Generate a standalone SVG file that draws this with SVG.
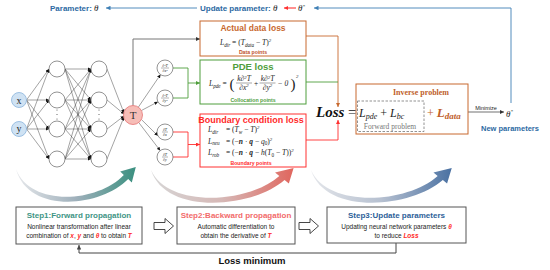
<svg xmlns="http://www.w3.org/2000/svg" width="550" height="270" viewBox="0 0 550 270">
<style>
.sans{font-family:"Liberation Sans",Arial,sans-serif}
.m{font-family:"Liberation Serif","DejaVu Serif",serif;font-style:italic;font-size:7.5px;fill:#222}
.sb{font-size:5.2px}
.sp{font-size:4.8px}
.nn circle{fill:#fff;stroke:#777;stroke-width:0.8}
.w line{stroke:#333;stroke-width:0.45;marker-end:url(#ak)}
.fr{font-family:"Liberation Serif",serif;font-style:italic;font-size:4px;fill:#222;text-anchor:middle}
.dc circle{fill:#fff;stroke:#666;stroke-width:0.7}
.dc line{stroke:#222;stroke-width:0.35}
.pt{font-family:"Liberation Sans",Arial,sans-serif;font-weight:bold;font-size:8px;fill:#2d6aa3}
.th{font-family:"Liberation Serif",serif;font-style:italic;font-weight:normal;font-size:9px;fill:#222}
.step{fill:#fff;stroke:#555;stroke-width:1}
.st{font-family:"Liberation Sans",Arial,sans-serif;font-weight:bold;font-size:8px;text-anchor:middle}
.sbd{font-family:"Liberation Sans",Arial,sans-serif;font-size:6.5px;fill:#222;text-anchor:middle}
.rb{fill:#ff2a2a;font-weight:bold;font-style:italic}
.hollow{fill:#fff;stroke:#333;stroke-width:0.9}
</style>
<defs>
<marker id="ak" viewBox="0 0 10 10" refX="10" refY="5" markerWidth="3.5" markerHeight="3.5" markerUnits="userSpaceOnUse" orient="auto"><path d="M0,0 L10,5 L0,10 z" fill="#111"/></marker>
<marker id="ag" viewBox="0 0 10 10" refX="10" refY="5" markerWidth="4" markerHeight="4" markerUnits="userSpaceOnUse" orient="auto"><path d="M0,0 L10,5 L0,10 z" fill="#333"/></marker>
<marker id="ao" viewBox="0 0 10 10" refX="10" refY="5" markerWidth="4" markerHeight="4" markerUnits="userSpaceOnUse" orient="auto"><path d="M0,0 L10,5 L0,10 z" fill="#c8692f"/></marker>
<marker id="agr" viewBox="0 0 10 10" refX="10" refY="5" markerWidth="4" markerHeight="4" markerUnits="userSpaceOnUse" orient="auto"><path d="M0,0 L10,5 L0,10 z" fill="#4f9e3c"/></marker>
<marker id="ar" viewBox="0 0 10 10" refX="10" refY="5" markerWidth="4" markerHeight="4" markerUnits="userSpaceOnUse" orient="auto"><path d="M0,0 L10,5 L0,10 z" fill="#ff3030"/></marker>
<marker id="ab" viewBox="0 0 10 10" refX="10" refY="5" markerWidth="4.5" markerHeight="4.5" markerUnits="userSpaceOnUse" orient="auto"><path d="M0,0 L10,5 L0,10 z" fill="#3f7fb5"/></marker>
<marker id="ad" viewBox="0 0 10 10" refX="10" refY="5" markerWidth="4.5" markerHeight="4.5" markerUnits="userSpaceOnUse" orient="auto"><path d="M0,0 L10,5 L0,10 z" fill="#444"/></marker>
<linearGradient id="g1" x1="0" y1="0" x2="1" y2="0"><stop offset="0" stop-color="#e6e8eb"/><stop offset="0.5" stop-color="#9fb0bb"/><stop offset="1" stop-color="#3b9080"/></linearGradient>
<linearGradient id="g2" x1="0" y1="0" x2="1" y2="0"><stop offset="0" stop-color="#d6d6d6"/><stop offset="0.5" stop-color="#d6b8b6"/><stop offset="1" stop-color="#e0665e"/></linearGradient>
<linearGradient id="g3" x1="0" y1="0" x2="1" y2="0"><stop offset="0" stop-color="#e4e6ea"/><stop offset="0.5" stop-color="#b6c0d0"/><stop offset="1" stop-color="#4a71a2"/></linearGradient>
<path id="arc" d="M16,169 C28,214 100,208 128.2,179.1 L131.8,182.6 L135.8,166.9 L120.2,171.4 L123.8,174.9 C97,203 30,207 16,169 Z"/>
</defs>

<!-- swoosh arrows -->
<g id="swoosh1"><use href="#arc" fill="url(#g1)"/></g>
<g id="swoosh2" transform="translate(132,1) scale(1.19,1)"><use href="#arc" fill="url(#g2)"/></g>
<g id="swoosh3" transform="translate(292.2,1) scale(1.175,1)"><use href="#arc" fill="url(#g3)"/></g>

<!-- top parameter texts -->
<g id="param">
<text x="50" y="11" class="pt">Parameter: <tspan class="th">θ</tspan></text>
</g>
<g id="update">
<text x="200" y="11" class="pt">Update parameter: <tspan class="th">θ</tspan></text>
<line x1="296" y1="8" x2="284" y2="8" stroke="#ff2020" stroke-width="1" marker-end="url(#ar)"/>
<text x="298" y="11" class="th">θ<tspan font-size="5" dy="-3">*</tspan></text>
</g>

<!-- connectors -->
<g id="connectors" fill="none">
<line x1="197" y1="8" x2="106" y2="8" stroke="#3f7fb5" stroke-width="0.9" marker-end="url(#ab)"/>
<polyline points="511,103 511,8 314,8" stroke="#3f7fb5" stroke-width="0.9" marker-end="url(#ab)"/>
<polyline points="133,105.5 133,39 200,39" stroke="#777" stroke-width="1" marker-end="url(#ag)"/>
<g stroke="#444" stroke-width="0.5">
<line x1="138.3" y1="107.2" x2="160.5" y2="74.6" marker-end="url(#ak)"/>
<line x1="141.4" y1="110.5" x2="157.9" y2="101.8" marker-end="url(#ak)"/>
<line x1="141.4" y1="119.5" x2="157.9" y2="135.8" marker-end="url(#ak)"/>
<line x1="138.8" y1="122.6" x2="160.2" y2="150.6" marker-end="url(#ak)"/>
</g>
<polyline points="173,68 188,68 188,98 173,98" stroke="#4f9e3c" stroke-width="0.9"/>
<line x1="188" y1="83" x2="200" y2="83" stroke="#4f9e3c" stroke-width="0.9" marker-end="url(#agr)"/>
<polyline points="173,132 188,132 188,157 173,157" stroke="#ff3030" stroke-width="0.9"/>
<line x1="188" y1="144.5" x2="200" y2="144.5" stroke="#ff3030" stroke-width="0.9" marker-end="url(#ar)"/>
<polyline points="306,36 338,36 338,107" stroke="#c8692f" stroke-width="0.9" marker-end="url(#ao)"/>
<line x1="306" y1="82" x2="338" y2="82" stroke="#4f9e3c" stroke-width="0.9"/>
<polyline points="306,140 338,140 338,120" stroke="#ff3030" stroke-width="0.9" marker-end="url(#ar)"/>
<line x1="468" y1="112" x2="504" y2="112" stroke="#333" stroke-width="0.7" marker-end="url(#ag)"/>
<polyline points="396,243 396,253 79,253 79,245" stroke="#444" stroke-width="1" marker-end="url(#ad)"/>
</g>

<!-- neural network weights -->
<g id="weights" class="w">
<line x1="26.5" y1="100" x2="49" y2="69"/><line x1="26.5" y1="100" x2="49" y2="100"/><line x1="26.5" y1="100" x2="49" y2="129"/><line x1="26.5" y1="100" x2="49" y2="159"/>
<line x1="26.5" y1="129" x2="49" y2="69"/><line x1="26.5" y1="129" x2="49" y2="100"/><line x1="26.5" y1="129" x2="49" y2="129"/><line x1="26.5" y1="129" x2="49" y2="159"/>
<line x1="65" y1="69" x2="91" y2="69"/><line x1="65" y1="69" x2="91" y2="100"/><line x1="65" y1="69" x2="91" y2="129"/><line x1="65" y1="69" x2="91" y2="159"/>
<line x1="65" y1="100" x2="91" y2="69"/><line x1="65" y1="100" x2="91" y2="100"/><line x1="65" y1="100" x2="91" y2="129"/><line x1="65" y1="100" x2="91" y2="159"/>
<line x1="65" y1="129" x2="91" y2="69"/><line x1="65" y1="129" x2="91" y2="100"/><line x1="65" y1="129" x2="91" y2="129"/><line x1="65" y1="129" x2="91" y2="159"/>
<line x1="65" y1="159" x2="91" y2="69"/><line x1="65" y1="159" x2="91" y2="100"/><line x1="65" y1="159" x2="91" y2="129"/><line x1="65" y1="159" x2="91" y2="159"/>
<line x1="107" y1="69" x2="124" y2="113"/><line x1="107" y1="100" x2="124" y2="114"/><line x1="107" y1="129" x2="124" y2="116"/><line x1="107" y1="159" x2="124" y2="117"/>
</g>

<!-- network nodes -->
<g id="input-x"><circle cx="19" cy="100" r="7.5" fill="#cfe2f3" stroke="#8ab4dc" stroke-width="0.8"/><text x="19" y="103.5" text-anchor="middle" font-family="Liberation Serif,serif" font-size="10" fill="#222">x</text></g>
<g id="input-y"><circle cx="19" cy="129" r="7.5" fill="#cfe2f3" stroke="#8ab4dc" stroke-width="0.8"/><text x="19" y="132" text-anchor="middle" font-family="Liberation Serif,serif" font-size="10" fill="#222">y</text></g>
<g id="hidden1" class="nn">
<circle cx="57" cy="69" r="8"/><circle cx="57" cy="100" r="8"/><circle cx="57" cy="129" r="8"/><circle cx="57" cy="159" r="8"/>
<circle cx="57" cy="110" r="0.5" style="fill:#333;stroke:none"/><circle cx="57" cy="114.5" r="0.5" style="fill:#333;stroke:none"/><circle cx="57" cy="119" r="0.5" style="fill:#333;stroke:none"/>
</g>
<g id="hidden2" class="nn">
<circle cx="99" cy="69" r="8"/><circle cx="99" cy="100" r="8"/><circle cx="99" cy="129" r="8"/><circle cx="99" cy="159" r="8"/>
<circle cx="99" cy="110" r="0.5" style="fill:#333;stroke:none"/><circle cx="99" cy="114.5" r="0.5" style="fill:#333;stroke:none"/><circle cx="99" cy="119" r="0.5" style="fill:#333;stroke:none"/>
</g>
<g id="output-T"><circle cx="133" cy="115" r="9.5" fill="#f6bdb7" stroke="#e57373" stroke-width="0.8"/><text x="133" y="119" text-anchor="middle" font-family="Liberation Serif,serif" font-size="11" fill="#333">T</text></g>

<!-- derivative nodes -->
<g id="d2Tdx2" class="dc"><circle cx="165" cy="68" r="8"/><text x="165" y="66.6" class="fr">∂²T</text><line x1="161" y1="68" x2="169" y2="68"/><text x="165" y="72.3" class="fr">∂x²</text></g>
<g id="d2Tdy2" class="dc"><circle cx="165" cy="98" r="8"/><text x="165" y="96.6" class="fr">∂²T</text><line x1="161" y1="98" x2="169" y2="98"/><text x="165" y="102.3" class="fr">∂y²</text></g>
<g id="dTdx" class="dc"><circle cx="165" cy="132" r="8"/><text x="165" y="130.6" class="fr">∂T</text><line x1="162" y1="132" x2="168" y2="132"/><text x="165" y="136.3" class="fr">∂x</text></g>
<g id="dTdy" class="dc"><circle cx="165" cy="157" r="8"/><text x="165" y="155.6" class="fr">∂T</text><line x1="162" y1="157" x2="168" y2="157"/><text x="165" y="161.3" class="fr">∂y</text></g>

<!-- Actual data loss -->
<g id="data-loss">
<rect x="200" y="21" width="106" height="35" fill="#fff" stroke="#c8692f" stroke-width="1"/>
<text x="253" y="31" text-anchor="middle" class="sans" font-weight="bold" font-size="8.5" fill="#c8692f">Actual data loss</text>
<text x="220" y="45" class="m">L<tspan class="sb" dy="1.5">dir</tspan><tspan dy="-1.5" font-style="normal"> = (</tspan>T<tspan class="sb" dy="1.5">data</tspan><tspan dy="-1.5" font-style="normal"> − </tspan>T<tspan font-style="normal">)</tspan><tspan class="sp" dy="-3">2</tspan></text>
<text x="253" y="53.5" text-anchor="middle" class="sans" font-weight="bold" font-size="5.2" fill="#c0502a">Data points</text>
</g>

<!-- PDE loss -->
<g id="pde-loss">
<rect x="200" y="60" width="106" height="44" fill="#fff" stroke="#4f9e3c" stroke-width="1"/>
<text x="253" y="70" text-anchor="middle" class="sans" font-weight="bold" font-size="9.5" fill="#4f9e3c">PDE loss</text>
<text x="209" y="86" class="m">L<tspan class="sb" dy="1.5">pde</tspan><tspan dy="-1.5" font-style="normal"> =</tspan></text>
<text x="229.5" y="89" font-family="Liberation Serif,serif" font-size="15" fill="#222">(</text>
<text x="244" y="81" class="m" text-anchor="middle">k∂<tspan class="sp" dy="-2.5">2</tspan><tspan dy="2.5">T</tspan></text>
<line x1="236" y1="83" x2="252" y2="83" stroke="#222" stroke-width="0.4"/>
<text x="244" y="89.8" class="m" text-anchor="middle">∂x<tspan class="sp" dy="-2.5">2</tspan></text>
<text x="253.5" y="86" class="m" font-style="normal">+</text>
<text x="267.5" y="81" class="m" text-anchor="middle">k∂<tspan class="sp" dy="-2.5">2</tspan><tspan dy="2.5">T</tspan></text>
<line x1="259.5" y1="83" x2="275.5" y2="83" stroke="#222" stroke-width="0.4"/>
<text x="267.5" y="89.8" class="m" text-anchor="middle">∂y<tspan class="sp" dy="-2.5">2</tspan></text>
<text x="277.5" y="86" class="m" font-style="normal">− 0</text>
<text x="290.5" y="89" font-family="Liberation Serif,serif" font-size="15" fill="#222">)</text>
<text x="296" y="78" class="m sp" font-style="normal">2</text>
<text x="253" y="101.5" text-anchor="middle" class="sans" font-weight="bold" font-size="5.2" fill="#4f9e3c">Collocation points</text>
</g>

<!-- Boundary condition loss -->
<g id="bc-loss">
<rect x="200" y="114" width="106" height="53" fill="#fff" stroke="#ff3030" stroke-width="1"/>
<text x="251" y="123" text-anchor="middle" class="sans" font-weight="bold" font-size="9" fill="#ff2a2a">Boundary condition loss</text>
<text x="208" y="132" class="m">L<tspan class="sb" dy="1.5">dir</tspan><tspan x="226" dy="-1.5" font-style="normal">= (</tspan>T<tspan class="sb" dy="1.5">w</tspan><tspan dy="-1.5" font-style="normal"> − </tspan>T<tspan font-style="normal">)</tspan><tspan class="sp" dy="-3">2</tspan></text>
<text x="208" y="143.5" class="m">L<tspan class="sb" dy="1.5">neu</tspan><tspan x="226" dy="-1.5" font-style="normal">= (−</tspan><tspan font-weight="bold">n</tspan><tspan font-style="normal"> · </tspan><tspan font-weight="bold">q</tspan><tspan font-style="normal"> − </tspan>q<tspan class="sb" dy="1.5" font-style="normal">0</tspan><tspan dy="-1.5" font-style="normal">)</tspan><tspan class="sp" dy="-3">2</tspan></text>
<text x="208" y="155" class="m">L<tspan class="sb" dy="1.5">rob</tspan><tspan x="226" dy="-1.5" font-style="normal">= (−</tspan><tspan font-weight="bold">n</tspan><tspan font-style="normal"> · </tspan><tspan font-weight="bold">q</tspan><tspan font-style="normal"> − </tspan>h<tspan font-style="normal">(</tspan>T<tspan class="sb" dy="1.5" font-style="normal">0</tspan><tspan dy="-1.5" font-style="normal"> − </tspan>T<tspan font-style="normal">))</tspan><tspan class="sp" dy="-3">2</tspan></text>
<text x="251" y="164.5" text-anchor="middle" class="sans" font-weight="bold" font-size="5.2" fill="#ff2a2a">Boundary points</text>
</g>

<!-- Loss equation -->
<g id="loss">
<text x="316" y="117" font-family="Liberation Serif,serif" font-weight="bold" font-style="italic" font-size="15" fill="#111">Loss<tspan font-style="normal" font-weight="normal"> =</tspan></text>
</g>
<g id="inverse-problem">
<rect x="356" y="84" width="112" height="50" fill="none" stroke="#c8692f" stroke-width="1"/>
<text x="421" y="95" text-anchor="middle" font-family="Liberation Serif,serif" font-weight="bold" font-size="8" fill="#c0602a">Inverse problem</text>
<g id="forward-problem">
<rect x="357.5" y="101" width="66.5" height="30.5" fill="none" stroke="#777" stroke-width="0.8" stroke-dasharray="2.5,1.5"/>
<text x="359" y="117" font-family="Liberation Serif,serif" font-style="italic" font-size="12" fill="#222">L<tspan font-size="8" dy="2">pde</tspan><tspan dy="-2" font-style="normal"> + </tspan>L<tspan font-size="8" dy="2">bc</tspan></text>
<text x="390" y="128.5" text-anchor="middle" font-family="Liberation Serif,serif" font-size="7.5" fill="#777">Forward problem</text>
</g>
<text x="427" y="117" font-family="Liberation Serif,serif" font-size="12" fill="#c0602a">+ <tspan font-weight="bold" font-style="italic" font-size="13">L</tspan><tspan font-weight="bold" font-style="italic" font-size="9" dy="2">data</tspan></text>
</g>
<g id="new-params">
<text x="486" y="109.5" text-anchor="middle" class="sans" font-size="5.5" fill="#222">Minimize</text>
<text x="506" y="117" class="th" font-size="10">θ<tspan font-size="5" dy="-4">*</tspan></text>
<text x="510" y="131" text-anchor="middle" class="sans" font-weight="bold" font-size="7.5" fill="#2d6aa3">New parameters</text>
</g>

<!-- Steps -->
<g id="step1">
<rect class="step" x="16" y="207" width="126" height="37"/>
<text x="79" y="218" class="st" fill="#3f9585">Step1:Forward propagation</text>
<text x="79" y="229" class="sbd">Nonlinear transformation after linear</text>
<text x="79" y="237.5" class="sbd">combination of <tspan class="rb">x</tspan>, <tspan class="rb">y</tspan> and <tspan class="rb">θ</tspan> to obtain <tspan class="rb">T</tspan></text>
</g>
<g id="arrow12"><polygon class="hollow" points="154,222.5 165,222.5 165,218.5 173.5,226 165,233.5 165,229.5 154,229.5"/></g>
<g id="step2">
<rect class="step" x="177" y="207" width="118" height="37"/>
<text x="236" y="218" class="st" fill="#f26b6b">Step2:Backward propagation</text>
<text x="236" y="229" class="sbd">Automatic differentiation to</text>
<text x="236" y="237.5" class="sbd">obtain the derivative of <tspan class="rb">T</tspan></text>
</g>
<g id="arrow23"><polygon class="hollow" points="299,222.5 310,222.5 310,218.5 318.5,226 310,233.5 310,229.5 299,229.5"/></g>
<g id="step3">
<rect class="step" x="327" y="207" width="139" height="36"/>
<text x="396.5" y="218" class="st" fill="#2e5f99">Step3:Update parameters</text>
<text x="396.5" y="229" class="sbd">Updating neural network parameters <tspan class="rb">θ</tspan></text>
<text x="396.5" y="237.5" class="sbd">to reduce <tspan class="rb">Loss</tspan></text>
</g>
<g id="loss-minimum">
<text x="252" y="263.5" text-anchor="middle" class="sans" font-weight="bold" font-size="9.5" fill="#111">Loss minimum</text>
</g>
</svg>
